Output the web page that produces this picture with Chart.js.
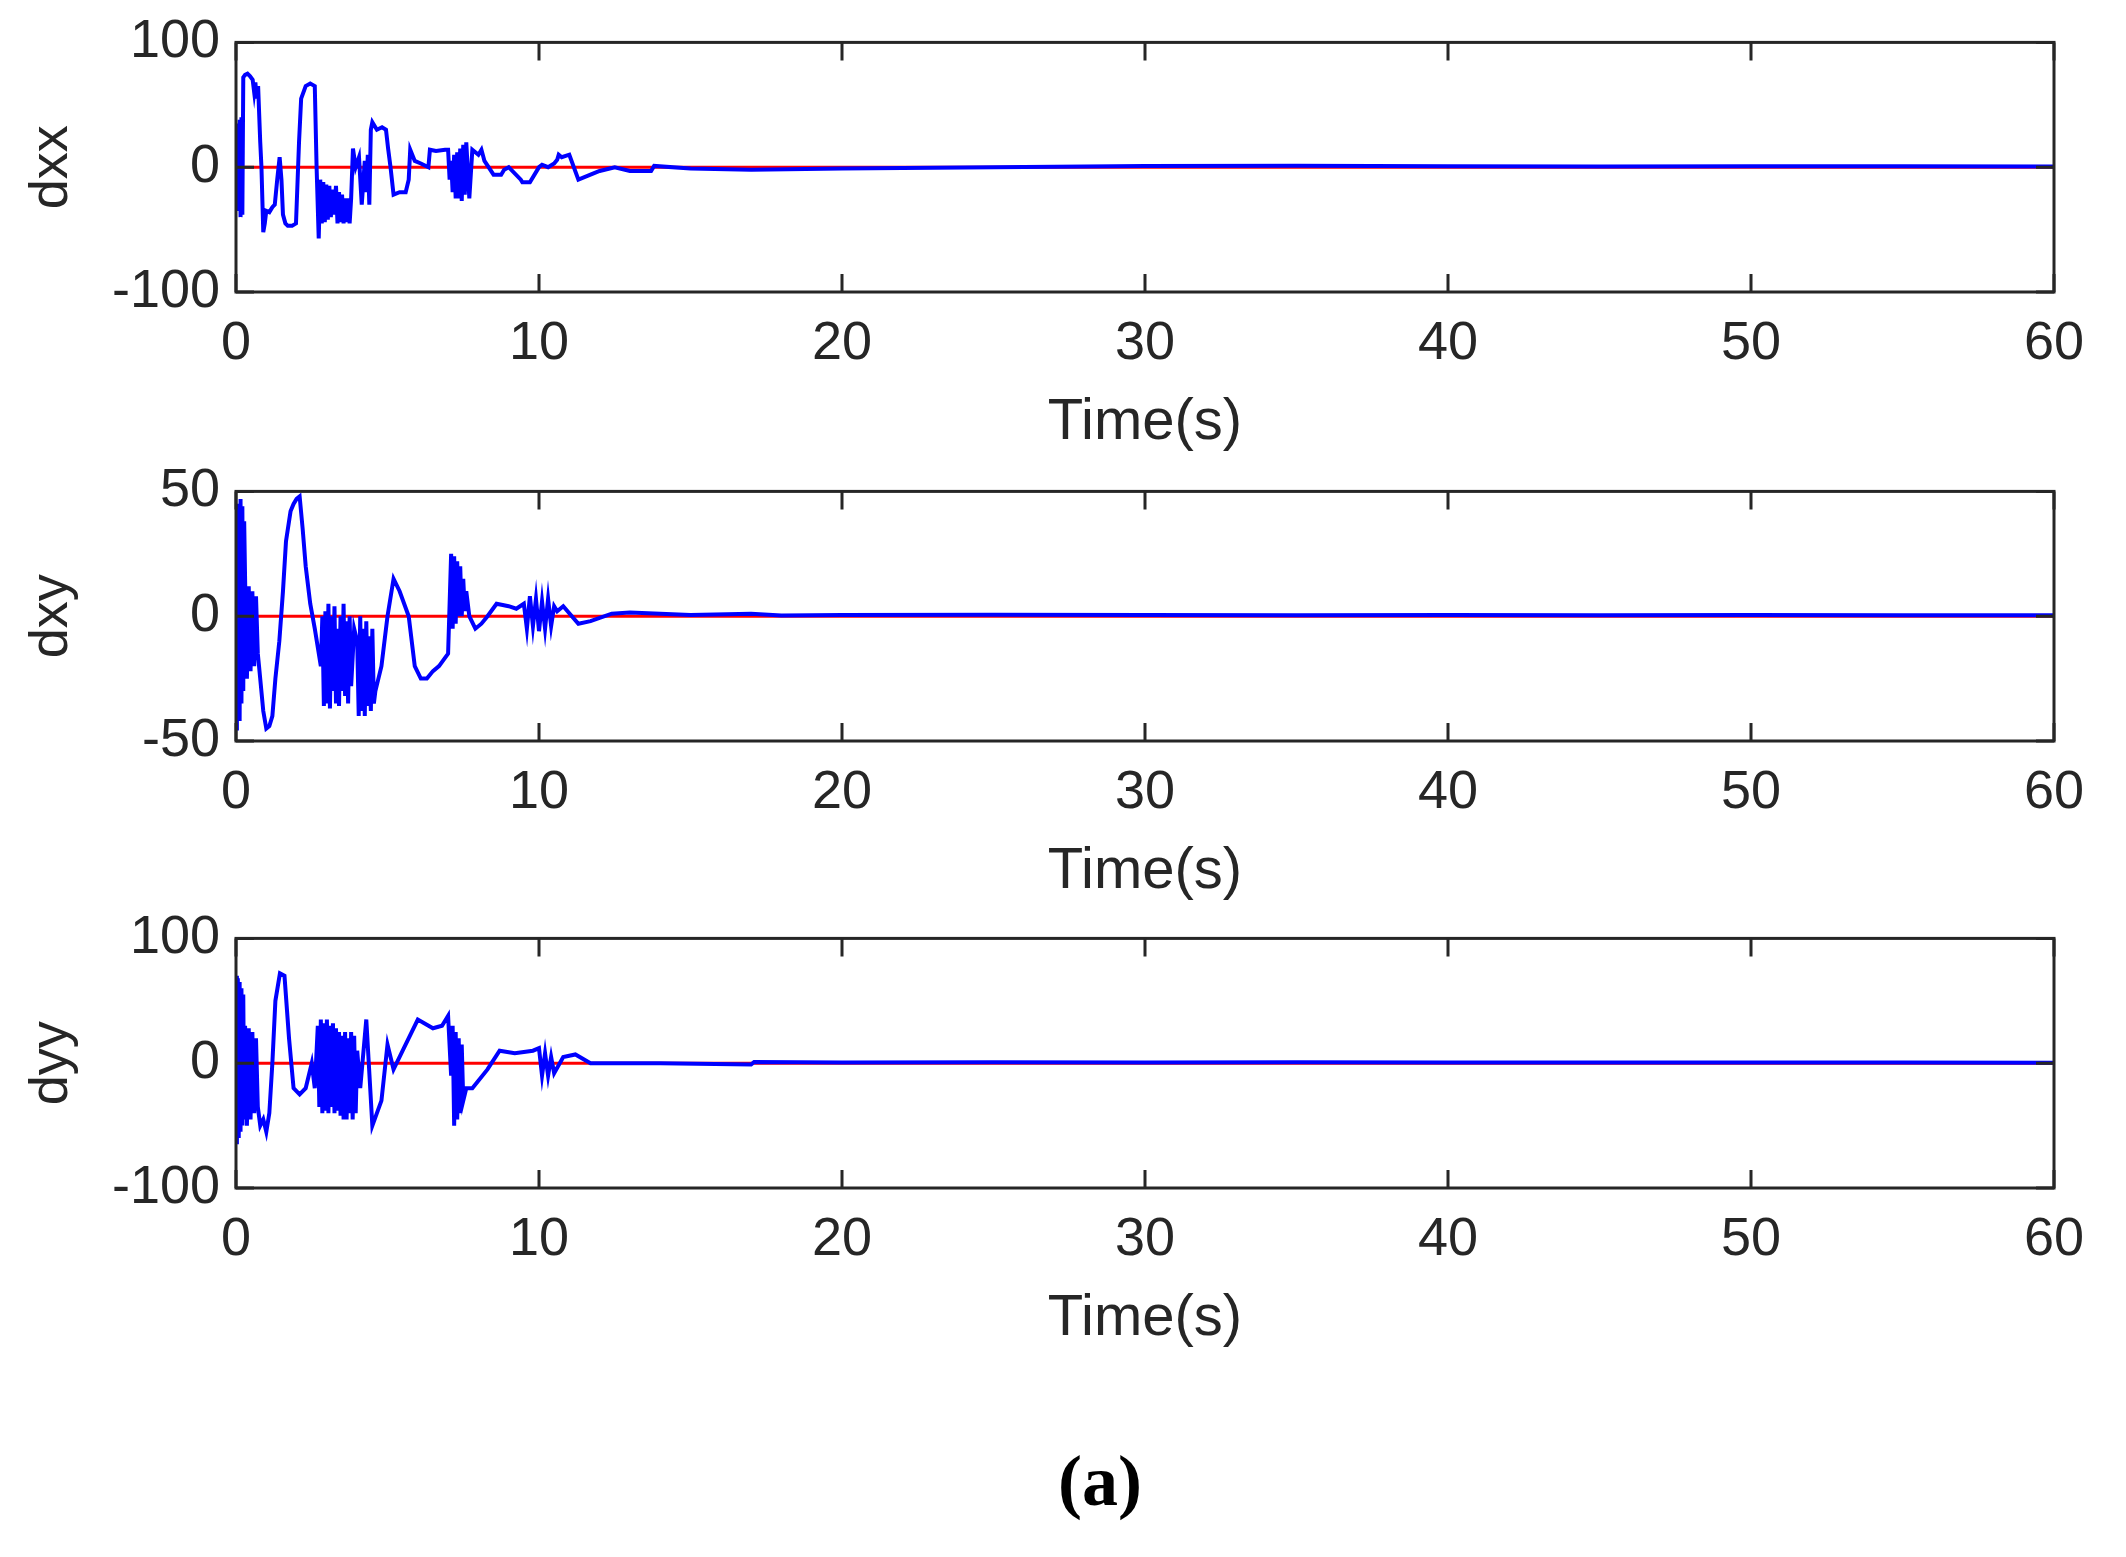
<!DOCTYPE html>
<html><head><meta charset="utf-8">
<script src="https://cdn.jsdelivr.net/npm/chart.js@4.4.1/dist/chart.umd.min.js"></script>
<style>
body{margin:0;background:#fff;width:2126px;height:1557px;position:relative;overflow:hidden}
canvas{position:absolute;left:0}
#lab{position:absolute;top:1440px;left:37px;width:2126px;text-align:center;font:bold 72px "Liberation Serif";color:#000}
</style></head><body>
<canvas id="c1" width="2126" height="460" style="top:2px;width:2126px;height:460px"></canvas>
<canvas id="c2" width="2126" height="460" style="top:451px;width:2126px;height:460px"></canvas>
<canvas id="c3" width="2126" height="460" style="top:898px;width:2126px;height:460px"></canvas>
<div id="lab">(a)</div>
<script>
const xTicks = [0,10,20,30,40,50,60];
const dxxTicks = [-100,0,100];
const dxyTicks = [-50,0,50];
const dyyTicks = [-100,0,100];
const refT = [0,60];
const refV = [0,0];

const dxxT = [0,0.03,0.06,0.09,0.12,0.15,0.18,0.21,0.24,0.3,0.38,0.46,0.55,0.6,0.64,0.68,0.73,0.8,0.84,0.9,0.95,1.0,1.1,1.2,1.28,1.36,1.44,1.5,1.55,1.63,1.71,1.85,1.98,2.08,2.15,2.3,2.45,2.6,2.66,2.73,2.78,2.83,2.88,2.93,2.98,3.03,3.08,3.13,3.18,3.23,3.3,3.35,3.4,3.45,3.5,3.55,3.6,3.65,3.7,3.75,3.8,3.86,3.95,4.06,4.15,4.25,4.3,4.35,4.4,4.45,4.5,4.65,4.82,4.95,5.02,5.1,5.2,5.4,5.6,5.7,5.75,5.9,6.1,6.35,6.4,6.6,6.9,7.0,7.05,7.1,7.15,7.2,7.25,7.3,7.35,7.4,7.45,7.5,7.55,7.6,7.7,7.8,8.0,8.1,8.2,8.5,8.75,8.85,9.0,9.4,9.45,9.7,10.0,10.1,10.3,10.5,10.6,10.65,10.75,11.0,11.3,11.8,12.0,12.5,13.0,13.7,13.8,15,17,20,25,30,35,40,45,50,55,60];
const dxxV = [30,-30,35,-35,38,-40,40,-38,72,74,75,73,70,60,68,55,65,20,0,-52,-45,-35,-36,-32,-30,-10,8,-10,-38,-45,-47,-47,-45,20,55,65,67,65,0,-57,-10,-45,-12,-44,-14,-42,-15,-40,-18,-38,-15,-45,-20,-44,-22,-45,-25,-44,-25,-45,-25,15,0,8,-30,5,-20,10,-30,30,36,30,32,30,15,0,-22,-20,-20,-10,14,5,3,0,14,13,14,14,-10,5,-20,10,-25,12,-25,15,-27,18,-22,20,-25,14,10,14,5,-6,-6,-2,0,-10,-12,-12,0,2,0,3,6,10,8,10,-10,-5,-3,0,-3,-3,1,-1,-2,-1,0,1,1.2,0.8,0.6,0.8,0.7,0.6,0.8,0.6,0.5,0.4];

const dxyT = [0,0.03,0.06,0.09,0.12,0.15,0.18,0.21,0.24,0.27,0.3,0.36,0.42,0.48,0.54,0.6,0.66,0.72,0.76,0.9,1.0,1.1,1.2,1.3,1.43,1.55,1.65,1.8,1.9,2.0,2.1,2.2,2.3,2.45,2.6,2.8,2.85,2.9,2.95,3.0,3.05,3.1,3.15,3.2,3.25,3.3,3.35,3.4,3.45,3.5,3.55,3.6,3.65,3.7,3.75,3.8,3.9,4.0,4.05,4.1,4.15,4.2,4.25,4.3,4.35,4.4,4.45,4.5,4.55,4.6,4.7,4.8,5.0,5.2,5.4,5.7,5.9,6.1,6.3,6.5,6.7,7.0,7.1,7.15,7.2,7.25,7.3,7.35,7.4,7.45,7.5,7.55,7.6,7.7,7.9,8.1,8.3,8.6,9.0,9.25,9.5,9.6,9.7,9.8,9.9,10.0,10.1,10.2,10.3,10.4,10.5,10.6,10.8,11.3,11.7,12.4,13,14,15,17,18,20,25,30,35,40,45,50,55,60];
const dxyV = [-45,40,-40,45,-42,47,-35,44,-30,38,15,-25,12,-22,10,-20,8,-15,-20,-38,-45,-44,-40,-25,-10,10,30,42,45,47,48,35,20,5,-5,-20,0,-36,2,-35,5,-37,0,-30,4,-35,-5,-36,0,-30,5,-32,-2,-35,0,-28,-5,-10,-40,0,-38,-5,-40,-2,-36,-8,-38,-5,-35,-30,-25,-20,0,15,10,0,-20,-25,-25,-22,-20,-15,25,-5,24,-3,22,0,20,0,15,2,10,0,-5,-3,0,5,4,3,5,-5,8,-4,7,-6,6,-5,7,-4,4,2,4,-3,-2,1,1.5,1,0.5,1,0.3,0.5,0.6,0.5,0.4,0.5,0.4,0.5,0.4,0.4];

const dyyT = [0,0.03,0.06,0.09,0.12,0.15,0.18,0.21,0.24,0.27,0.3,0.36,0.42,0.48,0.54,0.6,0.66,0.72,0.8,0.9,1.0,1.1,1.2,1.3,1.45,1.6,1.75,1.9,2.1,2.3,2.5,2.6,2.7,2.75,2.8,2.85,2.9,2.95,3.0,3.05,3.1,3.15,3.2,3.25,3.3,3.35,3.4,3.45,3.5,3.55,3.6,3.65,3.7,3.75,3.8,3.85,3.9,3.95,4.0,4.1,4.3,4.5,4.8,5.0,5.2,5.5,6.0,6.5,6.8,7.0,7.1,7.15,7.2,7.25,7.3,7.35,7.4,7.45,7.5,7.6,7.8,8.3,8.7,9.2,9.8,10.0,10.1,10.2,10.3,10.4,10.5,10.8,11.2,11.7,14,17,17.1,20,25,30,35,40,45,50,55,60];
const dyyV = [70,-65,68,-60,65,-55,60,-50,55,-45,30,-50,28,-45,25,-40,20,-35,-50,-45,-55,-40,0,50,72,70,20,-20,-25,-20,0,-20,30,-35,35,-40,32,-38,35,-40,30,-35,32,-40,28,-38,25,-42,22,-45,25,-45,20,-40,25,-45,22,-40,10,-20,35,-50,-30,15,-5,10,35,28,30,38,-10,30,-50,25,-45,20,-40,15,-30,-20,-20,-5,10,8,10,12,-10,8,-10,5,-8,5,7,0,0,-1,1,0.5,0.8,0.6,0.7,0.5,0.6,0.5,0.6,0.4];

function pts(t,v){return t.map((x,i)=>({x:x,y:v[i]}));}

const boxPlugin = {
  id:'box',
  afterDraw(chart){
    const a=chart.chartArea, c=chart.ctx, xs=chart.scales.x, ys=chart.scales.y;
    c.save(); c.strokeStyle='#262626'; c.lineWidth=3;
    c.strokeRect(a.left,a.top,a.right-a.left,a.bottom-a.top);
    c.beginPath();
    xTicks.forEach(v=>{const p=xs.getPixelForValue(v);c.moveTo(p,a.bottom);c.lineTo(p,a.bottom-18);c.moveTo(p,a.top);c.lineTo(p,a.top+18);});
    chart.options.myTicks.forEach(v=>{const p=ys.getPixelForValue(v);c.moveTo(a.left,p);c.lineTo(a.left+18,p);c.moveTo(a.right,p);c.lineTo(a.right-18,p);});
    c.stroke(); c.restore();
  }
};

function make(id,t,v,ticks,lab){
  new Chart(document.getElementById(id),{
    type:'line',
    data:{datasets:[
      {data:pts(t,v),borderColor:'#0000ff',borderWidth:4,pointRadius:0,tension:0,order:1},
      {data:pts(refT,refV),borderColor:'#ff0000',borderWidth:3,pointRadius:0,order:2}
    ]},
    plugins:[boxPlugin],
    options:{
      myTicks:ticks,
      responsive:false,animation:false,devicePixelRatio:1,
      layout:{padding:{top:20,right:72,left:16,bottom:0}},
      plugins:{legend:{display:false},tooltip:{enabled:false}},
      scales:{
        x:{type:'linear',min:0,max:60,grid:{display:false},border:{display:false},
          afterBuildTicks(s){s.ticks=xTicks.map(v=>({value:v}));},
          ticks:{color:'#262626',font:{family:'Liberation Sans',size:54},padding:12,maxRotation:0},
          title:{display:true,text:'Time(s)',color:'#262626',font:{family:'Liberation Sans',size:58},padding:{top:-8}},
          afterFit(s){s.height=170;}},
        y:{min:ticks[0],max:ticks[2],grid:{display:false},border:{display:false},
          afterBuildTicks(s){s.ticks=ticks.map(v=>({value:v}));},
          ticks:{color:'#262626',font:{family:'Liberation Sans',size:54},padding:8},
          title:{display:true,text:lab,color:'#262626',font:{family:'Liberation Sans',size:54},padding:{bottom:0}},
          afterFit(s){s.width=220;}}
      }
    }
  });
}
make('c1',dxxT,dxxV,dxxTicks,'dxx');
make('c2',dxyT,dxyV,dxyTicks,'dxy');
make('c3',dyyT,dyyV,dyyTicks,'dyy');
</script></body></html>
